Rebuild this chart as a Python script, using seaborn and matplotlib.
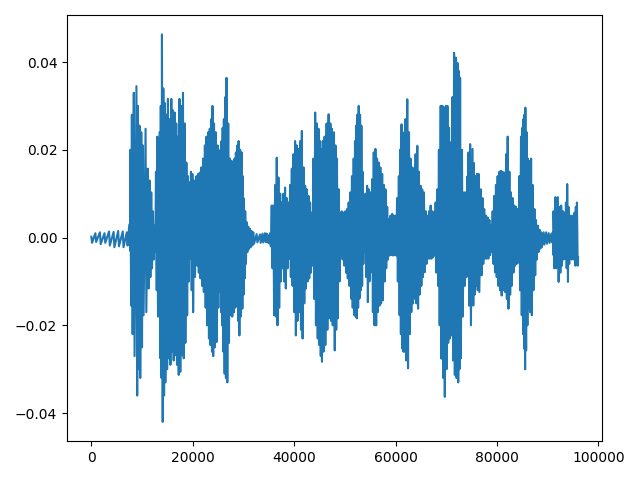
import numpy as np
import seaborn as sns
import matplotlib.pyplot as plt

# waveform envelope: sample index, upper peak, lower peak
peak_pos = [0, 800, 1700, 2600, 3500, 4400, 5300, 6200, 7000, 7500,
            7700, 8000, 8380, 8900, 9200, 9500, 9850, 10160, 10700, 11150,
            11500, 11820, 12150, 12470, 12750, 13000, 13460, 13700, 13930, 14200,
            14450, 14800, 15110, 15450, 15780, 16100, 16430, 16750, 17090, 17400,
            17760, 18080, 18400, 18750, 19050, 19400, 19650, 19930, 20300, 20730,
            21050, 21380, 21700, 22040, 22400, 22710, 23050, 23360, 23650, 23890,
            24200, 24550, 24900, 25200, 25450, 25680, 25900, 26140, 26400, 26670,
            27000, 27320, 27650, 27980, 28250, 28510, 28800, 29050, 29350, 29640,
            29870, 30100, 30350, 30630, 30950, 31280, 31600, 31940, 32600, 33260,
            33750, 34250, 34600, 34900, 35250, 35580, 35900, 36250, 36570, 36900,
            37250, 37560, 37900, 38210, 38550, 38870, 39200, 39540, 39870, 40190,
            40500, 40850, 41200, 41520, 41850, 42170, 42500, 42830, 43150, 43500,
            43800, 44150, 44500, 44810, 45100, 45340, 45650, 46000, 46400, 46800,
            47150, 47460, 47860, 48150, 48450, 48800, 49100, 49400, 49760, 50100,
            50430, 50750, 51080, 51400, 51740, 52000, 52210, 52470, 52730, 53000,
            53260, 53500, 53720, 54050, 54390, 54700, 55040, 55380, 55700, 56030,
            56350, 56690, 57000, 57360, 57700, 58010, 58350, 58670, 59000, 59340,
            59650, 59990, 60300, 60650, 60900, 61180, 61400, 61640, 61950, 62310,
            62650, 62960, 63300, 63620, 63950, 64290, 64600, 64940, 65250, 65600,
            65950, 66270, 66600, 66920, 67250, 67580, 67900, 68250, 68550, 68900,
            69250, 69560, 69900, 70230, 70550, 70880, 71200, 71540, 71880, 72210,
            72450, 72730, 73100, 73520, 73850, 74190, 74380, 74710, 75180, 75450,
            75700, 76050, 76370, 76820, 77150, 77480, 77800, 78150, 78500, 78800,
            79150, 79460, 79800, 80130, 80450, 80780, 81100, 81440, 81800, 82110,
            82450, 82760, 83100, 83420, 83750, 84090, 84400, 84740, 85000, 85210,
            85400, 85600, 85850, 86080, 86400, 86730, 87050, 87390, 87700, 88060,
            88400, 88720, 89200, 89700, 90200, 90690, 91000, 91150, 91540, 92010,
            92350, 92660, 93000, 93320, 93600, 93850, 94100, 94310, 94600, 94840,
            95050, 95300, 95550, 95770]
peak_hi = [0.0002, 0.0010, 0.0012, 0.0010, 0.0014, 0.0013, 0.0015, 0.0014, 0.0012, 0.0030,
           0.020, 0.028, 0.033, 0.0345, 0.030, 0.0255, 0.024, 0.021, 0.0248, 0.0157,
           0.013, 0.0103, 0.006, 0.0027, 0.015, 0.023, 0.024, 0.030, 0.0463, 0.034,
           0.0307, 0.028, 0.0316, 0.027, 0.0316, 0.029, 0.0285, 0.026, 0.023, 0.0316,
           0.030, 0.033, 0.026, 0.0171, 0.014, 0.0126, 0.015, 0.0145, 0.013, 0.014,
           0.0145, 0.0148, 0.016, 0.018, 0.021, 0.023, 0.024, 0.0248, 0.027, 0.030,
           0.026, 0.024, 0.021, 0.018, 0.020, 0.022, 0.025, 0.027, 0.032, 0.0364,
           0.026, 0.018, 0.0175, 0.0171, 0.018, 0.0194, 0.021, 0.022, 0.020, 0.0194,
           0.014, 0.0089, 0.006, 0.0035, 0.0025, 0.002, 0.0015, 0.0012, 0.0008, 0.0007,
           0.0009, 0.0010, 0.0009, 0.0005, 0.001, 0.0073, 0.0073, 0.012, 0.0182, 0.0137,
           0.010, 0.008, 0.010, 0.0114, 0.009, 0.008, 0.012, 0.0157, 0.019, 0.022,
           0.021, 0.0202, 0.022, 0.0243, 0.016, 0.0118, 0.011, 0.0095, 0.008, 0.0057,
           0.018, 0.0285, 0.026, 0.0248, 0.022, 0.0202, 0.022, 0.023, 0.026, 0.0281,
           0.026, 0.0248, 0.024, 0.021, 0.018, 0.011, 0.0057, 0.006, 0.0057, 0.006,
           0.0065, 0.008, 0.0103, 0.014, 0.018, 0.022, 0.0255, 0.028, 0.030, 0.028,
           0.0255, 0.015, 0.0089, 0.010, 0.0118, 0.011, 0.0103, 0.0133, 0.0194, 0.0202,
           0.018, 0.0171, 0.016, 0.0145, 0.012, 0.011, 0.007, 0.0042, 0.005, 0.0054,
           0.005, 0.005, 0.009, 0.014, 0.020, 0.0258, 0.024, 0.0224, 0.027, 0.0315,
           0.024, 0.018, 0.016, 0.0157, 0.019, 0.0209, 0.015, 0.0118, 0.011, 0.0103,
           0.006, 0.005, 0.006, 0.0073, 0.006, 0.0057, 0.008, 0.011, 0.020, 0.030,
           0.030, 0.0295, 0.030, 0.030, 0.025, 0.0217, 0.032, 0.0421, 0.041, 0.0398,
           0.038, 0.0364, 0.020, 0.0103, 0.0103, 0.014, 0.0194, 0.0213, 0.0202, 0.017,
           0.014, 0.0145, 0.0145, 0.011, 0.009, 0.0065, 0.005, 0.0046, 0.004, 0.0027,
           0.006, 0.0095, 0.012, 0.014, 0.015, 0.0152, 0.015, 0.0148, 0.019, 0.023,
           0.015, 0.0103, 0.009, 0.0073, 0.007, 0.0065, 0.014, 0.023, 0.025, 0.027,
           0.028, 0.0296, 0.024, 0.018, 0.0175, 0.018, 0.012, 0.0065, 0.004, 0.0027,
           0.0018, 0.0012, 0.0012, 0.0012, 0.0010, 0.0008, 0.0012, 0.006, 0.0092, 0.0092,
           0.007, 0.0073, 0.006, 0.0057, 0.008, 0.0122, 0.007, 0.0042, 0.005, 0.0046,
           0.005, 0.0057, 0.007, 0.008]
peak_lo = [-0.0012, -0.0010, -0.0015, -0.0012, -0.0018, -0.0022, -0.0020, -0.0022, -0.0018, -0.0030,
           -0.0155, -0.022, -0.027, -0.036, -0.030, -0.032, -0.025, -0.0177, -0.017, -0.0116,
           -0.009, -0.0070, -0.005, -0.0033, -0.012, -0.018, -0.0275, -0.032, -0.042, -0.036,
           -0.033, -0.030, -0.0275, -0.029, -0.026, -0.028, -0.0268, -0.029, -0.0313, -0.0306,
           -0.0268, -0.0275, -0.024, -0.0177, -0.010, -0.0048, -0.012, -0.017, -0.009, -0.0064,
           -0.008, -0.0093, -0.011, -0.0124, -0.016, -0.020, -0.023, -0.0245, -0.026, -0.027,
           -0.025, -0.0238, -0.016, -0.0124, -0.017, -0.020, -0.026, -0.031, -0.032, -0.033,
           -0.024, -0.0177, -0.018, -0.017, -0.016, -0.0155, -0.019, -0.0223, -0.018, -0.0162,
           -0.013, -0.0093, -0.006, -0.0033, -0.0026, -0.0022, -0.0018, -0.0014, -0.0011, -0.0012,
           -0.0011, -0.0010, -0.0011, -0.0013, -0.002, -0.007, -0.0177, -0.018, -0.020, -0.016,
           -0.010, -0.007, -0.010, -0.0116, -0.007, -0.0048, -0.009, -0.011, -0.017, -0.0223,
           -0.019, -0.017, -0.021, -0.023, -0.015, -0.0116, -0.010, -0.0093, -0.008, -0.0064,
           -0.014, -0.020, -0.023, -0.0245, -0.027, -0.0283, -0.026, -0.0245, -0.021, -0.0184,
           -0.019, -0.020, -0.0257, -0.021, -0.0184, -0.010, -0.0041, -0.005, -0.0064, -0.008,
           -0.0093, -0.011, -0.0139, -0.016, -0.0177, -0.018, -0.0184, -0.016, -0.0139, -0.012,
           -0.011, -0.006, -0.0033, -0.009, -0.0147, -0.010, -0.0079, -0.017, -0.020, -0.020,
           -0.017, -0.0155, -0.015, -0.0143, -0.010, -0.007, -0.005, -0.0041, -0.004, -0.0041,
           -0.004, -0.0041, -0.010, -0.0177, -0.022, -0.0253, -0.026, -0.026, -0.028, -0.0298,
           -0.022, -0.017, -0.015, -0.0139, -0.015, -0.0162, -0.013, -0.011, -0.009, -0.0079,
           -0.006, -0.0048, -0.0048, -0.0048, -0.0045, -0.0041, -0.008, -0.011, -0.020, -0.0276,
           -0.032, -0.0363, -0.030, -0.024, -0.023, -0.0223, -0.028, -0.0313, -0.032, -0.033,
           -0.030, -0.0275, -0.018, -0.011, -0.009, -0.0079, -0.0155, -0.020, -0.0155, -0.013,
           -0.011, -0.012, -0.0124, -0.0086, -0.006, -0.0048, -0.0048, -0.0048, -0.004, -0.0033,
           -0.006, -0.0079, -0.009, -0.011, -0.012, -0.0132, -0.012, -0.0124, -0.014, -0.0162,
           -0.013, -0.011, -0.008, -0.0064, -0.006, -0.0057, -0.012, -0.0177, -0.022, -0.0253,
           -0.030, -0.0257, -0.020, -0.0162, -0.017, -0.0177, -0.012, -0.0086, -0.005, -0.0033,
           -0.0025, -0.0022, -0.0016, -0.0014, -0.0012, -0.0011, -0.004, -0.007, -0.007, -0.0101,
           -0.008, -0.0064, -0.005, -0.0048, -0.007, -0.0101, -0.006, -0.0048, -0.005, -0.0041,
           -0.005, -0.0064, -0.006, -0.0064]
end_pos = [95999]
end_val = [-0.0045]

# alternate upper and lower peaks so the line fills the envelope like a raw signal
pos = np.array(peak_pos)
x = np.concatenate([np.column_stack([pos, pos + 150]).ravel(), end_pos])
y = np.concatenate([np.column_stack([peak_hi, peak_lo]).ravel(), end_val])

fig, ax = plt.subplots(figsize=(6.4, 4.8), dpi=100)
sns.lineplot(x=x, y=y, ax=ax, color='#1f77b4', linewidth=1.5, estimator=None)
plt.tight_layout()
plt.savefig('out.png')
